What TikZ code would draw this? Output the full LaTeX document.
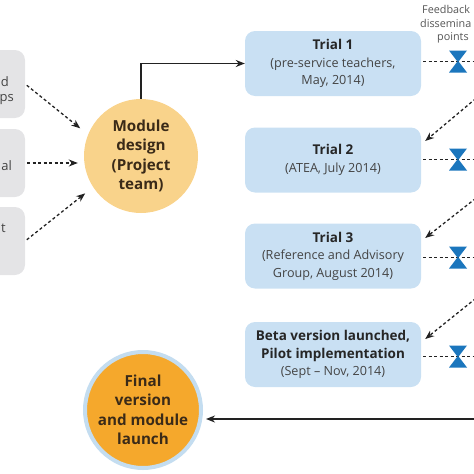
\documentclass[tikz,border=0pt]{standalone}
\usepackage{fontspec}
\setmainfont{Open Sans}
\usetikzlibrary{arrows.meta,calc}
\definecolor{grayfill}{HTML}{E4E4E6}
\definecolor{bluefill}{HTML}{C9E0F3}
\definecolor{modfill}{HTML}{F9D38B}
\definecolor{finfill}{HTML}{F5A82C}
\definecolor{ringblue}{HTML}{C4DDF0}
\definecolor{bowblue}{HTML}{1B76BD}
\definecolor{circtext}{HTML}{3A2A18}
\definecolor{boldtext}{HTML}{262626}
\definecolor{regtext}{HTML}{444444}
\definecolor{smalltext}{HTML}{555555}
\definecolor{linecol}{HTML}{222222}
\newcommand\hdline[1]{{\fontsize{13.5}{17.5}\selectfont\bfseries\color{boldtext}#1}}
\tikzset{
  graybox/.style={fill=grayfill, rounded corners=10pt, minimum width=80pt, minimum height=68pt, inner sep=0pt},
  gtext/.style={text=regtext, font=\fontsize{13}{17}\selectfont, inner sep=0pt, anchor=east},
  trialbox/.style={fill=bluefill, rounded corners=10pt, minimum width=176pt, minimum height=65pt, inner sep=0pt, align=center, text=regtext, font=\fontsize{12.6}{17.5}\selectfont},
  bigcirc/.style={circle, inner sep=0pt, align=center, text=circtext, font=\fontsize{15.2}{19.5}\selectfont\bfseries},
  dasharrow/.style={draw=linecol, line width=1.3pt, dash pattern=on 3pt off 2.5pt, -{Stealth[length=9pt,width=7pt]}},
  dashline/.style={draw=linecol, line width=1.1pt, dash pattern=on 3pt off 2.5pt},
  solidarrow/.style={draw=linecol, line width=1.8pt, -{Stealth[length=9pt,width=7pt]}},
  fbtext/.style={text=smalltext, font=\fontsize{10.8}{13}\selectfont, inner sep=0pt, anchor=base west},
  bowtiepic/.pic={
    \fill[bowblue] (-9,-11) -- (9,-11) .. controls (4,-5) .. (0.6,0) -- (-0.6,0) .. controls (-4,-5) .. cycle;
    \fill[bowblue] (-9,11) -- (9,11) .. controls (4,5) .. (0.6,0) -- (-0.6,0) .. controls (-4,5) .. cycle;
  }
}
\begin{document}
\begin{tikzpicture}[x=1pt,y=-1pt]
\useasboundingbox (0,0) rectangle (474,474);
\clip (0,0) rectangle (474,474);

% left gray boxes (cut off)
\node[graybox] (g1) at (-15,84) {};
\node[graybox] (g2) at (-15,163) {};
\node[graybox] (g3) at (-15,241) {};
\node[gtext] (g1a) at (9,82) {d};
\node[gtext] (g1b) at (14,100) {ps};
\node[gtext] (g2a) at (12,166) {al};
\node[gtext] (g3a) at (6,228) {t};

% module design
\node[bigcirc, fill=modfill, minimum size=114pt] (mod) at (141,156) {Module\\design\\(Project\\team)};

% final version
\node[bigcirc, fill=finfill, draw=ringblue, line width=4pt, minimum size=116pt] (fin) at (143,410) {Final\\version\\and module\\launch};

% trial boxes
\node[trialbox] (t1) at (333,63.5) {\hdline{Trial 1}\\(pre-service teachers,\\May, 2014)};
\node[trialbox] (t2) at (333,160) {\hdline{Trial 2}\\(ATEA, July 2014)};
\node[trialbox] (t3) at (333,256) {\hdline{Trial 3}\\(Reference and Advisory\\Group, August 2014)};
\node[trialbox] (t4) at (333,354.5) {\hdline{Beta version launched,}\\\hdline{Pilot implementation}\\(Sept -- Nov, 2014)};

% feedback label (cut off)
\node[fbtext] (fb1) at (422,13) {Feedback};
\node[fbtext] (fb2) at (420,27) {dissemina};
\node[fbtext] (fb3) at (437,40) {points};

% inputs to module design
\draw[dasharrow, shorten <=2pt, shorten >=10pt] (g1.east) -- (mod.158);
\draw[dasharrow, shorten <=2pt, shorten >=6pt] (g2.east) -- (g2.east -| mod.west);
\draw[dasharrow, shorten <=2pt, shorten >=10pt] (g3.east) -- (mod.213);

% module design to trial 1
\draw[solidarrow] (mod.north) |- (t1.west);

% feedback dashed lines and bowties
\coordinate (e1) at (480,61.5);
\coordinate (e2) at (480,159.5);
\coordinate (e3) at (480,257.5);
\coordinate (e4) at (480,356.5);
\draw[dashline, shorten <=2pt] (t1.east |- e1) -- (e1);
\draw[dashline, shorten <=2pt] (t2.east |- e2) -- (e2);
\draw[dashline, shorten <=2pt] (t3.east |- e3) -- (e3);
\draw[dashline, shorten <=2pt] (t4.east |- e4) -- (e4);
\pic at (458,61.5) {bowtiepic};
\pic at (458,159.5) {bowtiepic};
\pic at (458,257.5) {bowtiepic};
\pic at (458,356.5) {bowtiepic};

% incoming feedback arrows (from off the picture)
\coordinate (r1) at (480,95);
\coordinate (r2) at (480,195);
\coordinate (r3) at (480,295);
\draw[dasharrow] (r1) -- ($(t2.east)+(4,-19)$);
\draw[dasharrow] (r2) -- ($(t3.east)+(4,-18)$);
\draw[dasharrow] (r3) -- ($(t4.east)+(4,-15.5)$);

% to final version
\coordinate (rb) at (480,419);
\draw[solidarrow, shorten >=3pt] (rb) -- (rb -| fin.east);
\end{tikzpicture}
\end{document}
